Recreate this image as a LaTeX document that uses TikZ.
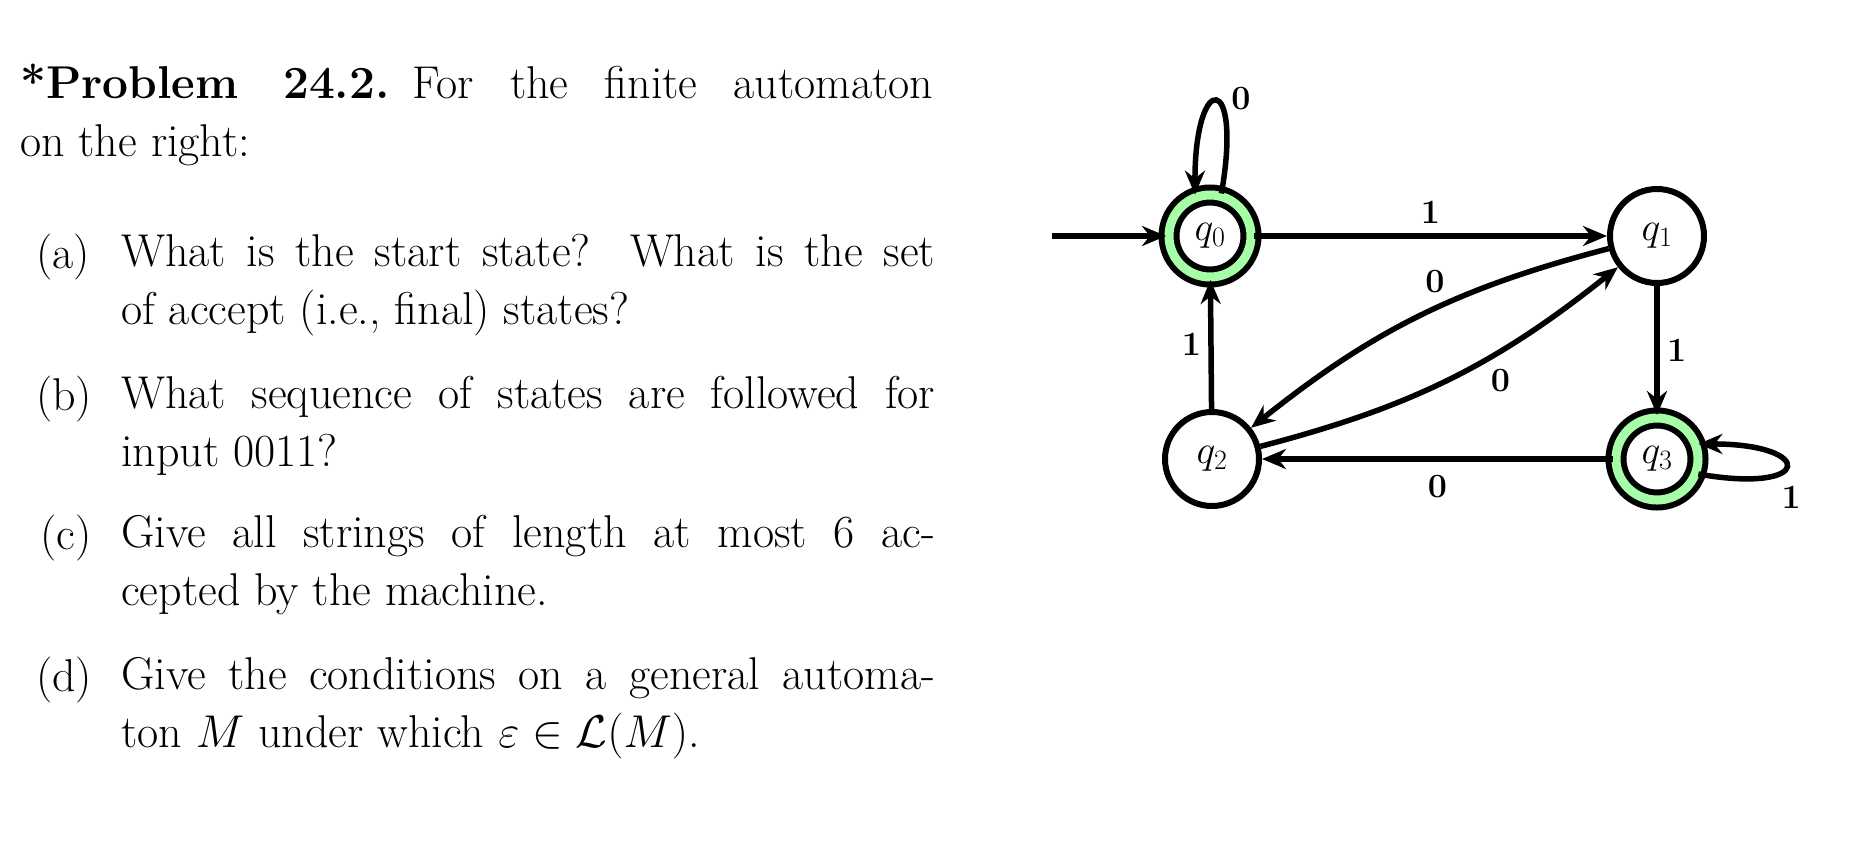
\RequirePackage{fix-cm}
\documentclass[tikz,border=0pt]{standalone}
\usepackage{amsmath,amssymb}
\usetikzlibrary{arrows.meta}
\DeclareMathSizes{46}{46}{32}{23}
\DeclareMathSizes{40}{40}{28}{20}
\newcommand{\fl}[2]{\makebox[#1][s]{#2}}
\begin{document}
\begin{tikzpicture}[x=1pt,y=-1pt,
  txt/.style={anchor=north west,inner sep=0pt,align=left,font=\fontsize{46}{58}\selectfont},
  st/.style={circle,draw,line width=6pt,minimum size=94pt,inner sep=0pt,font=\fontsize{40}{40}\selectfont},
  acc/.style={st,double=green!35!white,double distance=9pt,minimum size=82pt},
  tr/.style={line width=5.5pt,-{Stealth[length=24pt,width=20pt]}},
  lb/.style={font=\bfseries\fontsize{34}{34}\selectfont}]
\useasboundingbox (0,0) rectangle (1869,844);
\fill[white] (0,0) rectangle (1869,844);
\node[txt] (h) at (20,64) {\fl{913pt}{\textbf{*Problem 24.2.}\enspace For the finite automaton}\\on the right:};
\node[txt] (la) at (36,234) {(a)};
\node[txt] (a) at (121,234) {\fl{814pt}{What is the start state? What is the set}\\of accept (i.e., final) states?};
\node[txt] (lb2) at (36,376) {(b)};
\node[txt] (b) at (121,376) {\fl{814pt}{What sequence of states are followed for}\\input 0011?};
\node[txt] (lc) at (40,515) {(c)};
\node[txt] (c) at (121,515) {\fl{814pt}{Give all strings of length at most 6 ac-}\\cepted by the machine.};
\node[txt] (ld) at (36,657) {(d)};
\node[txt] (d) at (121,657) {\fl{814pt}{Give the conditions on a general automa-}\\ton $M$ under which $\varepsilon\in\mathcal{L}(M)$.};
% automaton
\node[acc] (q0) at (1210,236) {$q_0$};
\node[st] (q1) at (1657,236) {$q_1$};
\node[st] (q2) at (1212,459) {$q_2$};
\node[acc] (q3) at (1657,459) {$q_3$};
\coordinate (s) at (1052,236);
\draw[tr] (s) -- (q0);
\draw[tr] (q0) -- node[lb,above=6pt]{1} (q1);
\draw[tr] (q1) -- node[lb,right=4pt]{1} (q3);
\draw[tr] (q2) -- node[lb,left=4pt]{1} (q0);
\draw[tr] (q3) -- node[lb,below=10pt]{0} (q2);
\draw[tr] (q1) to[bend right=12] node[lb,above left=2pt,pos=0.4]{0} (q2);
\draw[tr] (q2) to[bend right=12] node[lb,below right=2pt,pos=0.6]{0} (q1);
\draw[tr] (q0.75) to[out=80,in=90,looseness=12] node[lb,pos=0.3,above right=0pt]{0} (q0.110);
\draw[tr] (q3.-20) to[out=-10,in=0,looseness=10] node[lb,pos=0.3,below right=4pt]{1} (q3.20);
\end{tikzpicture}
\end{document}
